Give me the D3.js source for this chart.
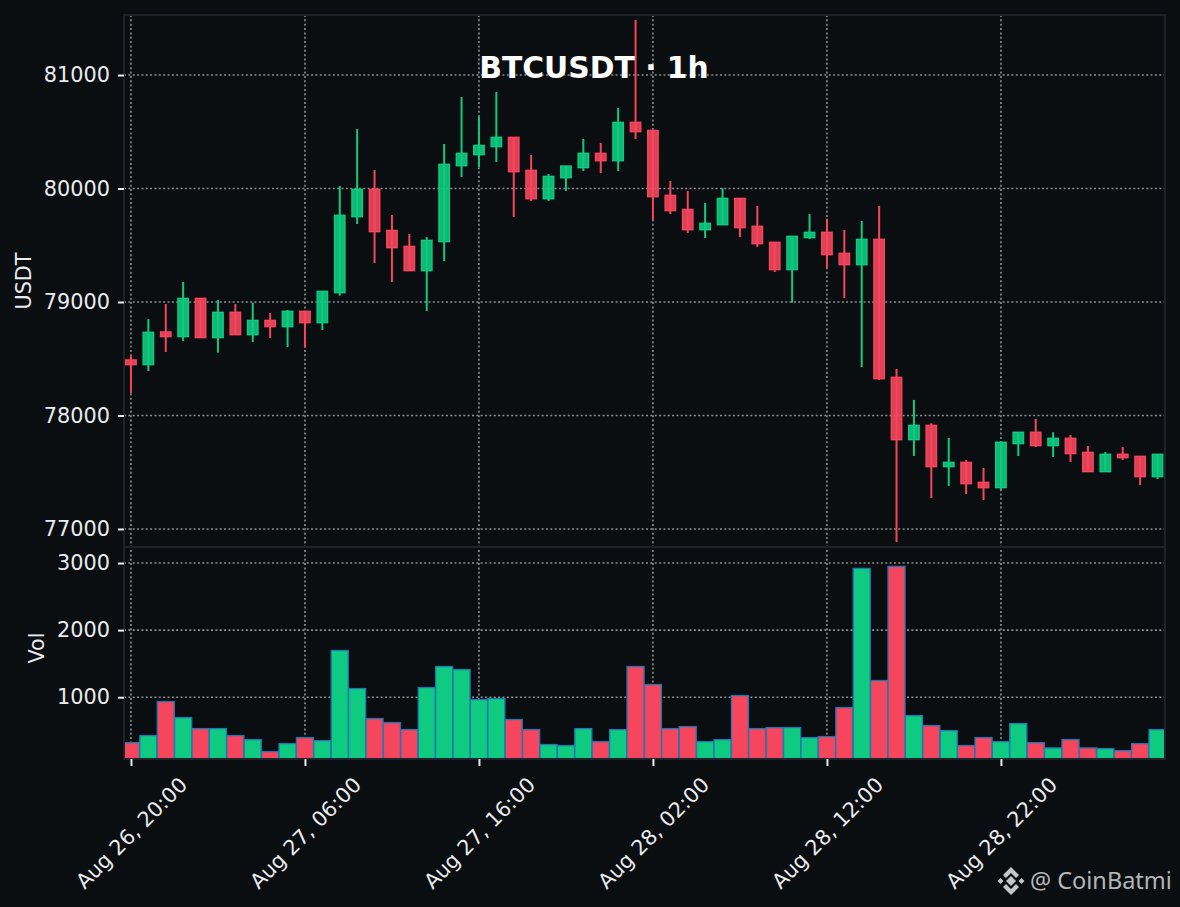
<!DOCTYPE html>
<html>
<head>
<meta charset="utf-8">
<script src="https://cdn.jsdelivr.net/npm/d3@7"></script>
<style>
    html, body { margin: 0; padding: 0; background: #0b0e11; }
    svg { display: block; }
    text { font-family: "DejaVu Sans", sans-serif; fill: #eaecef; }
    .grid line { stroke: #8c8e90; stroke-width: 1.6; stroke-dasharray: 2 2.35; }
    .axis path { display: none; }
    .axis line { stroke: #eaecef; stroke-width: 2; }
    .axis text { font-size: 20.8px; }
</style>
</head>
<body>
<svg id="chart"></svg>
<script>
// values, one entry per hour
const opens = [78489,78448,78736,78695,79032,78686,78909,78712,78838,78783,78918,78818,79082,79752,79993,79631,79490,79276,79532,80201,
    80298,80369,80451,80160,79910,80095,80184,80310,80245,80583,80512,79940,79816,79637,79681,79913,79667,79526,79285,79567,
    79614,79429,79329,79552,78336,77787,77913,77549,77587,77411,77364,77752,77852,77734,77799,77675,77505,77658,77640,77461];
const highs = [78530,78850,78982,79176,79032,79018,78982,78994,78903,78930,78918,79094,80022,80524,80163,79767,79599,79573,80392,80806,
    80630,80850,80451,80295,80128,80198,80436,80401,80709,81485,80512,80066,79978,79872,80004,79913,79846,79526,79579,79775,
    79734,79634,79714,79846,78410,78137,77931,77802,77608,77537,77770,77852,77969,77852,77828,77731,77678,77722,77640,77658];
const lows = [78195,78392,78559,78656,78686,78554,78712,78648,78683,78603,78598,78753,79056,79687,79344,79176,79276,78921,79361,80101,
    80189,80233,79749,79890,79890,79978,80154,80137,80154,80436,79722,79775,79608,79564,79681,79573,79485,79264,78994,79555,
    79297,79035,78427,78313,76885,77643,77273,77379,77308,77255,77344,77643,77722,77634,77590,77505,77505,77608,77388,77440];
const closes = [78448,78733,78695,79032,78686,78909,78712,78838,78783,78918,78818,79094,79764,79993,79620,79479,79276,79543,80213,80310,
    80380,80451,80148,79910,80107,80198,80310,80245,80583,80501,79928,79805,79637,79693,79913,79655,79514,79285,79579,79614,
    79417,79329,79552,78324,77787,77913,77549,77587,77399,77364,77764,77852,77734,77799,77664,77505,77658,77628,77461,77658];
const volumes = [323,428,935,697,532,532,428,368,189,308,398,353,1697,1129,682,622,517,1144,1458,1413,
    965,980,667,517,294,279,532,338,517,1458,1189,532,562,338,368,1025,532,547,547,398,
    413,846,2920,1249,2950,726,577,502,279,398,338,607,323,244,368,244,234,204,308,517];

const xTickIndex = [0, 10, 20, 30, 40, 50];
const xTickLabels = ["Aug 26, 20:00", "Aug 27, 06:00", "Aug 27, 16:00", "Aug 28, 02:00", "Aug 28, 12:00", "Aug 28, 22:00"];
const priceTicks = [77000, 78000, 79000, 80000, 81000];
const volTicks = [1000, 2000, 3000];

const upColor = "#0ecb81";
const downColor = "#f6465d";
const spineColor = "#1e2329";

const width = 1180, height = 907;
const plot = {left: 124, right: 1165, top: 15, mid: 547, bottom: 759};

const svg = d3.select("#chart").attr("width", width).attr("height", height);

const x = d3.scaleLinear().domain([-0.4, 59.43]).range([plot.left, plot.right]);
const yPrice = d3.scaleLinear().domain([76841, 81529]).range([plot.mid, plot.top]);
const yVol = d3.scaleLinear().domain([79, 3239]).range([plot.bottom, plot.mid]);

const step = x(1) - x(0);
const indexes = d3.range(opens.length);
const isUp = i => closes[i] >= opens[i];
const colorOf = i => isUp(i) ? upColor : downColor;

const defs = svg.append("defs");
defs.append("clipPath").attr("id", "clip-price").append("rect")
    .attr("x", plot.left).attr("y", plot.top)
    .attr("width", plot.right - plot.left).attr("height", plot.mid - plot.top);
defs.append("clipPath").attr("id", "clip-vol").append("rect")
    .attr("x", plot.left).attr("y", plot.mid)
    .attr("width", plot.right - plot.left).attr("height", plot.bottom - plot.mid);

// grids go first, everything else sits on top of them
const gridG = svg.append("g").attr("class", "grid");
gridG.selectAll(".vx").data(xTickIndex).join("line")
    .attr("class", "vx")
    .attr("x1", d => x(d)).attr("x2", d => x(d))
    .attr("y1", plot.top).attr("y2", plot.bottom);
gridG.selectAll(".hp").data(priceTicks).join("line")
    .attr("class", "hp")
    .attr("x1", plot.left).attr("x2", plot.right)
    .attr("y1", d => yPrice(d)).attr("y2", d => yPrice(d));
gridG.selectAll(".hv").data(volTicks).join("line")
    .attr("class", "hv")
    .attr("x1", plot.left).attr("x2", plot.right)
    .attr("y1", d => yVol(d)).attr("y2", d => yVol(d));

// candles
const candles = svg.append("g").attr("clip-path", "url(#clip-price)");
candles.selectAll(".wick").data(indexes).join("line")
    .attr("class", "wick")
    .attr("x1", d => x(d)).attr("x2", d => x(d))
    .attr("y1", d => yPrice(highs[d])).attr("y2", d => yPrice(lows[d]))
    .attr("stroke", colorOf)
    .attr("stroke-width", 2);
const bodyWidth = step * 0.6;
candles.selectAll(".body").data(indexes).join("rect")
    .attr("class", "body")
    .attr("x", d => x(d) - bodyWidth / 2)
    .attr("width", bodyWidth)
    .attr("y", d => yPrice(Math.max(opens[d], closes[d])))
    .attr("height", d => Math.abs(yPrice(opens[d]) - yPrice(closes[d])))
    .attr("fill", colorOf)
    .attr("fill-opacity", 0.9)
    .attr("stroke", colorOf)
    .attr("stroke-width", 1.4);

// volume
const volG = svg.append("g").attr("clip-path", "url(#clip-vol)");
volG.selectAll("rect").data(indexes).join("rect")
    .attr("x", d => x(d) - step * 0.49)
    .attr("width", step * 0.98)
    .attr("y", d => yVol(volumes[d]))
    .attr("height", d => plot.bottom + 4 - yVol(volumes[d]))
    .attr("fill", colorOf)
    .attr("stroke", "#1f77b4")
    .attr("stroke-width", 1.3);

// spines
const spines = svg.append("g").attr("fill", "none").attr("stroke", spineColor).attr("stroke-width", 2);
spines.append("rect").attr("x", plot.left).attr("y", plot.top)
    .attr("width", plot.right - plot.left).attr("height", plot.bottom - plot.top);
spines.append("line").attr("x1", plot.left).attr("x2", plot.right).attr("y1", plot.mid).attr("y2", plot.mid);

// axes
const priceAxis = d3.axisLeft(yPrice).tickValues(priceTicks).tickFormat(d3.format("d")).tickSize(6).tickPadding(8);
svg.append("g").attr("class", "axis").attr("transform", `translate(${plot.left},0)`).call(priceAxis);

const volAxis = d3.axisLeft(yVol).tickValues(volTicks).tickFormat(d3.format("d")).tickSize(6).tickPadding(8);
svg.append("g").attr("class", "axis").attr("transform", `translate(${plot.left},0)`).call(volAxis);

const xAxis = d3.axisBottom(x).tickValues(xTickIndex).tickFormat((d, i) => xTickLabels[i]).tickSize(7);
const xAxisG = svg.append("g").attr("class", "axis").attr("transform", `translate(0,${plot.bottom})`).call(xAxis);
xAxisG.selectAll("text")
    .attr("text-anchor", "middle")
    .attr("dy", "0.35em")
    .attr("y", 0)
    .attr("transform", "translate(0,74) rotate(-45)");

// labels
svg.append("text").attr("transform", "translate(24,281) rotate(-90)")
    .attr("text-anchor", "middle").attr("dy", "0.35em").style("font-size", "20.8px").text("USDT");
svg.append("text").attr("transform", "translate(37,648) rotate(-90)")
    .attr("text-anchor", "middle").attr("dy", "0.35em").style("font-size", "20.8px").text("Vol");
svg.append("text").attr("x", 594).attr("y", 78)
    .attr("text-anchor", "middle")
    .style("font-size", "29.8px").style("font-weight", "bold").style("fill", "#ffffff")
    .text("BTCUSDT · 1h");

// watermark
const mark = svg.append("g").attr("transform", "translate(1011,881)").attr("fill", "#c4c6c8");
mark.append("path").attr("d", "M0,-5 L-5,0 L0,5 L5,0 Z");
mark.append("path").attr("d", "M0,-14 L-8,-6 L-5,-3 L0,-8 L5,-3 L8,-6 Z");
mark.append("path").attr("d", "M0,14 L-8,6 L-5,3 L0,8 L5,3 L8,6 Z");
mark.append("path").attr("d", "M-13.5,0 L-10.5,-3 L-7.5,0 L-10.5,3 Z");
mark.append("path").attr("d", "M13.5,0 L10.5,-3 L7.5,0 L10.5,3 Z");
svg.append("text").attr("x", 1030).attr("y", 889)
    .style("font-family", "'Noto Sans', sans-serif")
    .style("font-size", "23.5px").style("fill", "#b4b6b8")
    .text("@ CoinBatmi");
</script>
</body>
</html>
